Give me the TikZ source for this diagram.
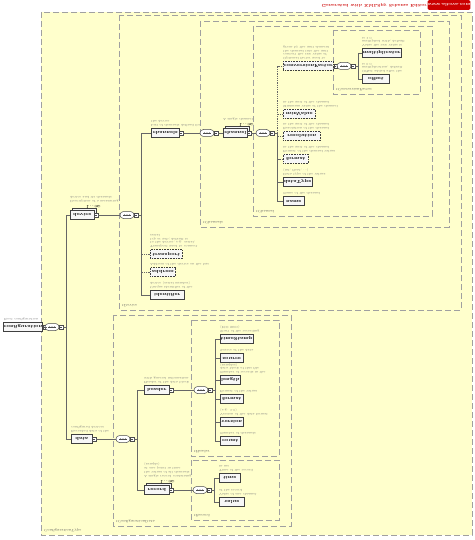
\documentclass[tikz,border=0pt]{standalone}
\usetikzlibrary{shapes.misc,calc}
\definecolor{boxfill}{HTML}{FFFFCC}
\definecolor{boxline}{HTML}{A0A0A0}
\definecolor{anncol}{HTML}{7A7A7A}
\definecolor{xred}{HTML}{CC0000}
\newcommand\fl[1]{\scalebox{1}[-1]{#1}}
\newcommand\A[1]{\fl{\begin{tabular}{@{}l@{}}#1\end{tabular}}}
\tikzset{
 elem/.style={draw=black!75, fill=black!3, line width=0.6pt, minimum height=9pt, inner sep=0.5pt, font=\fontsize{4.4}{5}\selectfont\bfseries, anchor=west},
 opt/.style={densely dotted},
 ann/.style={font=\fontsize{3}{3.8}\selectfont, text=anncol, anchor=south west, inner sep=0pt},
 typebox/.style={draw=boxline, dash pattern=on 6pt off 3pt, fill=boxfill, line width=0.6pt},
 typelbl/.style={font=\fontsize{3.3}{4}\selectfont, text=black!65, anchor=south west, inner sep=0pt},
 conn/.style={draw=black!60, line width=0.8pt},
 optconn/.style={conn, densely dotted},
 compos/.style={rounded rectangle, draw=black!70, fill=white, line width=0.5pt, minimum width=14pt, minimum height=7pt, inner sep=0pt},
 pmbox/.style={draw=black!70, fill=white, line width=0.4pt, minimum size=3.5pt, inner sep=0pt},
 mult/.style={font=\fontsize{3.4}{4}\selectfont, inner sep=0pt, anchor=south west},
}
\newcommand\El[6][]{\node[elem,minimum width=#5pt,#1] (#2) at (#3,#4) {\fl{#6}};}
\newcommand\Stack[3]{\draw[draw=black!75, fill=black!3, line width=0.6pt] (#1+2,#2-6.5) rectangle (#1+#3+2,#2+2.5);}
\newcommand\Pm[1]{\node[pmbox] (#1pm) at ($(#1.east)+(1.8,0)$) {};\draw[black!70, line width=0.35pt] ($(#1pm.center)+(-1,0)$) -- ($(#1pm.center)+(1,0)$);}
\newcommand\Seq[3]{\node[compos] (#1) at (#2,#3) {};\draw[black!70,line width=0.35pt] ($(#1.center)+(-4,0)$) -- ($(#1.center)+(4,0)$);\foreach \dx in {-2.5,0,2.5} \fill[black!70] ($(#1.center)+(\dx,0)$) circle (0.6pt);\Pm{#1}}
\begin{document}
\begin{tikzpicture}[x=1pt,y=-1pt]
\useasboundingbox (0,0) rectangle (474,540);
% type boxes
\draw[typebox] (41,12) rectangle (472,535);
\node[typelbl] (l0) at (44,532) {\fl{ConfigurationType}};
\draw[typebox] (119,15) rectangle (461,310);
\node[typelbl] (l1) at (122,307) {\fl{tDevice}};
\draw[typebox] (200,21) rectangle (449,227);
\node[typelbl] (l2) at (203,224) {\fl{tChannels}};
\draw[typebox] (253,26) rectangle (432,216);
\node[typelbl] (l3) at (256,213) {\fl{tChannel}};
\draw[typebox] (333,30) rectangle (420,94);
\node[typelbl] (l4) at (336,91) {\fl{tConversionFactor}};
\draw[typebox] (113,315) rectangle (291,526);
\node[typelbl] (l5) at (116,523) {\fl{tConfigurationData}};
\draw[typebox] (191,320) rectangle (279,456);
\node[typelbl] (l6) at (194,453) {\fl{tHeader}};
\draw[typebox] (191,460) rectangle (279,520);
\node[typelbl] (l7) at (194,517) {\fl{tRecord}};
% footer
\node[font=\fontsize{3.9}{4.5}\selectfont\bfseries, text=xred, anchor=east, inner sep=0] (gen) at (427,5) {\fl{Generated with XMLSpy Schema Editor}};
\node[fill=xred, rounded corners=1.5pt, minimum width=38pt, minimum height=10pt, inner sep=0, font=\fontsize{4}{4.5}\selectfont\bfseries, text=white] (www) at (449,5) {\fl{www.altova.com}};
% root
\El{root}{3}{327}{34}{configuration}\Pm{root}
\node[ann] (aroot) at (4,321.5) {\A{Root configuration}};
\Seq{s0}{52}{327}
% device
\Stack{70}{215}{24}\El{e1}{70}{215}{24}{device}\Pm{e1}
\node[mult] (m1) at (86,209) {\fl{$1..\infty$}};
\node[ann] (ae1) at (70,203) {\A{Description of a measuring\\device and its channels}};
\Seq{s1}{127}{215}
\El{e1a}{151}{133}{28}{channels}\Pm{e1a}
\node[ann] (ae1a) at (151,127.5) {\A{List of channels defined for\\the device}};
\Seq{s1a}{207}{133}
\Stack{223}{133}{24}\El{e1a1}{223}{133}{24}{channel}\Pm{e1a1}
\node[mult] (m2) at (239,127) {\fl{$1..\infty$}};
\node[ann] (ae1a1) at (223,121) {\A{A single channel}};
\Seq{s1b}{263}{133}
\El[opt]{c1}{283}{66}{43}{conversionFactor}\Pm{c1}
\node[ann] (ac1) at (283,60.5) {\A{Optional factor used to\\convert the raw value of\\the channel into the unit\\given by the unit element}};
\Seq{c1s}{344}{66}
\El{d1}{362}{53}{38}{multiplicator}
\node[ann] (ad1) at (362,47.5) {\A{Value the raw value is\\multiplied with, default\\is 1.0}};
\El{d2}{362}{79}{27}{offset}
\node[ann] (ad2) at (362,73.5) {\A{Offset added after the\\multiplication, default\\is 0.0}};
\El[opt]{c2}{283}{114}{32}{minValue}
\node[ann] (ac2) at (283,108.5) {\A{Minimum value of the channel\\in the unit of the channel}};
\El[opt]{c3}{283}{136}{37}{resolution}
\node[ann] (ac3) at (283,130.5) {\A{Resolution of the channel\\in the unit of the channel}};
\El[opt]{c4}{283}{159}{25}{format}
\node[ann] (ac4) at (283,153.5) {\A{Format of the channel values\\in the unit of the channel}};
\El{c5}{283}{182}{27}{dataType}
\node[ann] (ac5) at (283,176.5) {\A{Data type of the values\\(int, float, ...)}};
\El{c6}{283}{201}{21}{name}
\node[ann] (ac6) at (283,195.5) {\A{Name of the channel}};
\El[opt]{e1b}{150}{254}{32}{transport}
\node[ann] (ae1b) at (150,248.5) {\A{Transport used to connect\\to the device, e.g. serial,\\tcp or usb; default is\\serial}};
\El[opt]{e1c}{150}{272}{25}{address}
\node[ann] (ae1c) at (150,266.5) {\A{Address of the device on the bus}};
\El{e1d}{150}{295}{34}{identifier}
\node[ann] (ae1d) at (150,289.5) {\A{Unique identifier of the\\device (serial number)}};
% data
\El{e2}{71}{439}{21}{data}\Pm{e2}
\node[ann] (ae2) at (71,433.5) {\A{Recorded data of the\\configured devices}};
\Seq{s2}{123}{439}
\El{e2a}{144}{390}{25}{header}\Pm{e2a}
\node[ann] (ae2a) at (144,384.5) {\A{Header of the data block\\with general information}};
\Seq{s2a}{201}{390}
\El{f1}{220}{339}{32}{timeStamp}
\node[ann] (af1) at (220,333.5) {\A{Start of the recording\\(ISO 8601)}};
\El{f2}{220}{358}{23}{source}
\node[ann] (af2) at (220,352.5) {\A{Source of the data}};
\El{f3}{220}{380}{20}{length}
\node[ann] (af3) at (220,374.5) {\A{Number of records in the\\data block of this file\\(samples)}};
\El{f4}{220}{399}{23}{format}
\node[ann] (af4) at (220,393.5) {\A{Format of the values}};
\El{f5}{220}{422}{23}{version}
\node[ann] (af5) at (220,416.5) {\A{Version of the data format\\(e.g. 1.0)}};
\El{f6}{220}{441}{20}{count}
\node[ann] (af6) at (220,435.5) {\A{Number of channels}};
\Stack{144}{490}{25}\El{e2b}{144}{490}{25}{record}\Pm{e2b}
\node[mult] (m3) at (160,484) {\fl{$1..\infty$}};
\node[ann] (ae2b) at (144,478) {\A{A single record containing\\the values of all channels\\at one point in time\\(sample)}};
\Seq{s2b}{200}{490}
\El{g1}{219}{478}{21}{time}
\node[ann] (ag1) at (219,472.5) {\A{Time of the record\\in ms}};
\El{g2}{219}{502}{25}{value}
\node[ann] (ag2) at (219,496.5) {\A{Value of one channel\\of the record}};
% connectors
\draw[conn] (rootpm.east) -- (s0.west);
\draw[conn] (s0pm.east) -- ++(3.5,0) |- (e1.west);
\draw[conn] (s0pm.east) -- ++(3.5,0) |- (e2.west);
\draw[conn] (e1pm.east) -- (s1.west);
\foreach \n in {e1b,e1c} \draw[optconn] (s1pm.east) -- ++(3.5,0) |- (\n.west);
\foreach \n in {e1a,e1d} \draw[conn] (s1pm.east) -- ++(3.5,0) |- (\n.west);
\draw[conn] (e1apm.east) -- (s1a.west);
\draw[conn] (s1apm.east) -- (e1a1.west);
\draw[conn] (e1a1pm.east) -- (s1b.west);
\foreach \n in {c1,c2,c3,c4} \draw[optconn] (s1bpm.east) -- ++(3.5,0) |- (\n.west);
\foreach \n in {c5,c6} \draw[conn] (s1bpm.east) -- ++(3.5,0) |- (\n.west);
\draw[conn] (c1pm.east) -- (c1s.west);
\foreach \n in {d1,d2} \draw[conn] (c1spm.east) -- ++(3.5,0) |- (\n.west);
\draw[conn] (e2pm.east) -- (s2.west);
\foreach \n in {e2a,e2b} \draw[conn] (s2pm.east) -- ++(3.5,0) |- (\n.west);
\draw[conn] (e2apm.east) -- (s2a.west);
\foreach \n in {f1,f2,f3,f4,f5,f6} \draw[conn] (s2apm.east) -- ++(3.5,0) |- (\n.west);
\draw[conn] (e2bpm.east) -- (s2b.west);
\foreach \n in {g1,g2} \draw[conn] (s2bpm.east) -- ++(3.5,0) |- (\n.west);
\end{tikzpicture}
\end{document}
